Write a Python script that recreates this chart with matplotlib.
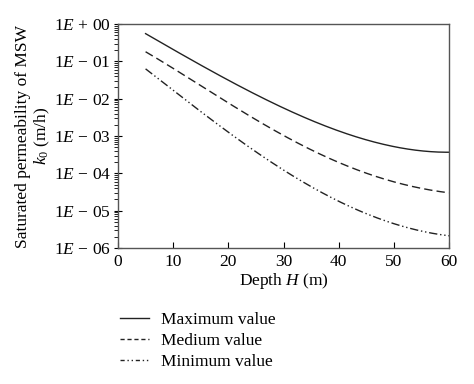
import numpy as np
import matplotlib.pyplot as plt
from matplotlib.lines import Line2D

plt.rcParams['font.family'] = 'Liberation Serif'
plt.rcParams['mathtext.fontset'] = 'custom'
plt.rcParams['mathtext.rm'] = 'Liberation Serif'
plt.rcParams['mathtext.it'] = 'Liberation Serif:italic'

# depth (m) and log10 of permeability
depth = [5, 10, 15, 20, 25, 30, 35, 40, 45, 50, 55, 60]
log_max = [-0.25, -0.70, -1.10, -1.50, -1.88, -2.25, -2.58, -2.88, -3.10, -3.28, -3.39, -3.44]
log_med = [-0.74, -1.19, -1.66, -2.12, -2.55, -2.97, -3.37, -3.73, -4.00, -4.22, -4.39, -4.53]
log_min = [-1.21, -1.76, -2.34, -2.92, -3.43, -3.90, -4.35, -4.75, -5.08, -5.35, -5.55, -5.67]

ytick_exp = [0, -1, -2, -3, -4, -5, -6]
ytick_labels = ['1E + 00', '1E - 01', '1E - 02', '1E - 03',
                '1E - 04', '1E - 05', '1E - 06']

fs = 12.5
fig = plt.figure(figsize=(4.74, 3.84), dpi=100)
ax = fig.add_axes([118 / 474, 1 - 248 / 384, 331 / 474, 224 / 384])

# smooth through the read points in log space
xs = np.linspace(5, 60, 200)
for vals, ls in [(log_max, '-'), (log_med, (0, (6, 3))), (log_min, (0, (6, 2, 1, 2, 1, 2)))]:
    coef = np.polyfit(depth, vals, 4)
    ax.plot(xs, 10 ** np.polyval(coef, xs), color='#222222', lw=1.0, linestyle=ls)

ax.set_yscale('log')
ax.set_xlim(0, 60)
ax.set_ylim(1e-6, 1)
ax.set_yticks([10.0 ** e for e in ytick_exp])
lbls = []
for s in ytick_labels:
    a, sign, b = s.split(' ')
    sign = '+' if sign == '+' else '-'
    lbls.append('$1\\mathit{E}\\,' + sign + '\\,' + b + '$')
ax.set_yticklabels(lbls, fontsize=fs)
ax.set_xticks(range(0, 61, 10))
ax.tick_params(axis='x', direction='in', length=4, labelsize=fs, pad=4)
ax.tick_params(axis='y', which='major', direction='inout', length=6, pad=2)
ax.tick_params(axis='y', which='minor', direction='out', length=3)
ax.tick_params(axis='y', which='minor', labelleft=False)
ax.tick_params(top=False, right=False)
for s in ax.spines.values():
    s.set_color('#555555')
    s.set_linewidth(1.0)

ax.set_xlabel('Depth $H$ (m)', fontsize=fs, labelpad=1)
ax.set_ylabel('Saturated permeability of MSW\n$k_0$ (m/h)', fontsize=fs, labelpad=1, linespacing=1.15)

handles = [Line2D([], [], color='#222222', lw=1.0, linestyle='-'),
           Line2D([], [], color='#222222', lw=1.0, linestyle=(0, (3, 2))),
           Line2D([], [], color='#222222', lw=1.0, linestyle=(0, (3, 2, 1, 2, 1, 2)))]
fig.legend(handles, ['Maximum value', 'Medium value', 'Minimum value'],
           loc='upper left', bbox_to_anchor=(104 / 474, 1 - 296 / 384),
           frameon=False, fontsize=fs, handlelength=1.7, handletextpad=0.7,
           labelspacing=0.3)

fig.savefig('out.png', dpi=100)
